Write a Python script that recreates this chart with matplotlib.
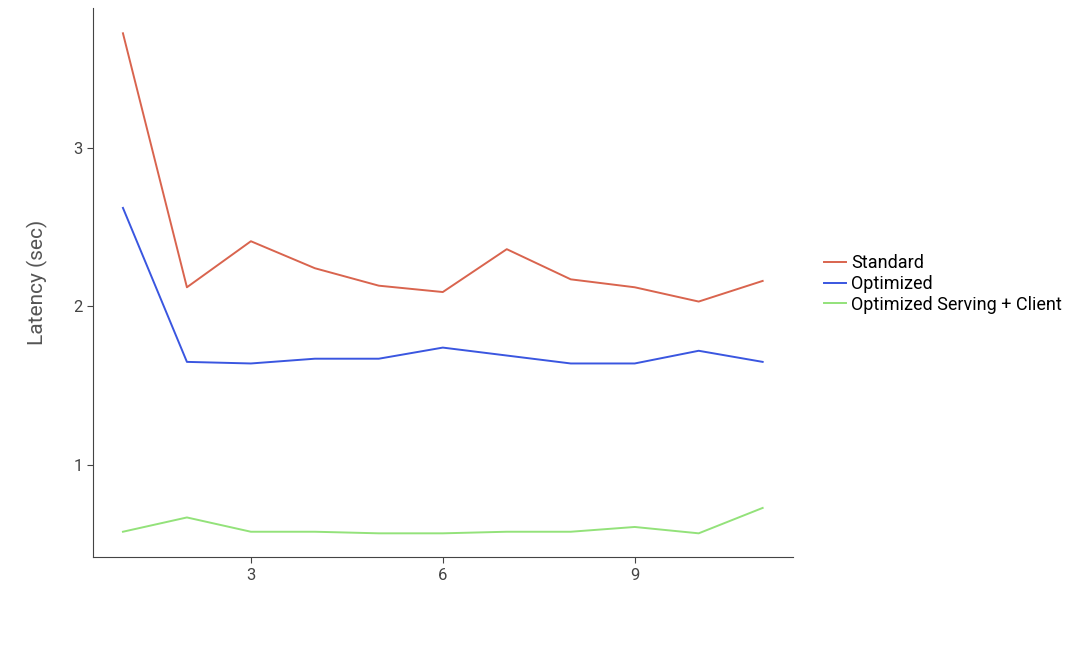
import matplotlib
matplotlib.use("Agg")
import matplotlib.pyplot as plt

runs = list(range(1, 12))
standard = [3.72, 2.12, 2.41, 2.24, 2.13, 2.09, 2.36, 2.17, 2.12, 2.03, 2.16]
optimized = [2.62, 1.65, 1.64, 1.67, 1.67, 1.74, 1.69, 1.64, 1.64, 1.72, 1.65]
serving = [0.58, 0.67, 0.58, 0.58, 0.57, 0.57, 0.58, 0.58, 0.61, 0.57, 0.73]
labels = ["Standard", "Optimized", "Optimized Serving + Client"]
colors = ["#D9644E", "#3A56E0", "#93E27A"]

plt.rcParams['font.family'] = ['Roboto', 'DejaVu Sans']
fig = plt.figure(figsize=(10.8, 6.57), dpi=100)
ax = fig.add_axes([0.086, 0.152, 0.648, 0.836])
for s, l, c in zip([standard, optimized, serving], labels, colors):
    ax.plot(runs, s, color=c, lw=1.4, label=l)
ax.set_xlim(0.53, 11.47)
ax.set_ylim(0.42, 3.88)
ax.set_xticks([3, 6, 9])
ax.set_yticks([1, 2, 3])
for sp in ["top", "right"]:
    ax.spines[sp].set_visible(False)
for sp in ["left", "bottom"]:
    ax.spines[sp].set_color("#444444")
ax.tick_params(colors="#444444", labelsize=12, direction="out", length=4)
ax.set_xlabel("Num. Runs", fontsize=15, color="#555555", labelpad=58)
ax.set_ylabel("Latency (sec)", fontsize=15, color="#555555", labelpad=18)
leg = fig.legend(loc="center left", bbox_to_anchor=(0.748, 0.568), frameon=False,
                 fontsize=13, handlelength=1.2, handletextpad=0.3, labelspacing=0.15)
plt.savefig("out.png", dpi=100)
